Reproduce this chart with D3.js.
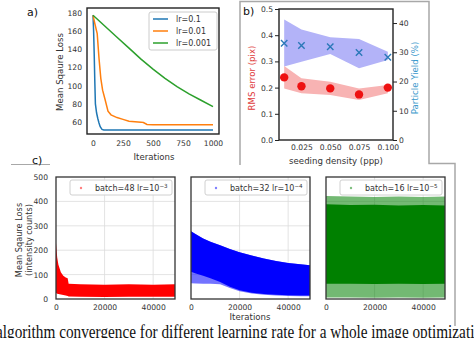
<!DOCTYPE html>
<html>
<head>
<meta charset="utf-8">
<script src="https://cdn.jsdelivr.net/npm/d3@7"></script>
<style>
  body { margin: 0; background: #fff; }
  svg { display: block; font-family: "DejaVu Sans", sans-serif; }
</style>
</head>
<body>
<div class="chart"></div>
<script>
// DATA ------------------------------------

// a) loss vs iterations for three learning rates
const fastIter = [0, 5, 10, 15, 20, 30, 40, 50, 60, 75, 90, 1000];
const fastLoss = [177, 160, 135, 105, 80, 70, 64, 59, 55, 52, 51.5, 51.5];
const midIter = [0, 15, 35, 50, 65, 80, 100, 125, 150, 200, 250, 300, 350, 400, 420, 450, 500, 1000];
const midLoss = [177, 168, 157, 130, 108, 95, 85, 72, 68, 65, 63, 61, 60.5, 60, 59.5, 57.5, 57, 57];
const slowIter = [0, 100, 200, 300, 400, 500, 600, 700, 800, 900, 1000];
const slowLoss = [177, 165, 153, 141, 129, 118, 108, 99, 91, 84, 77];
const aLabels = ["lr=0.1", "lr=0.01", "lr=0.001"];
const aXTicks = [0, 250, 500, 750, 1000];
const aYTicks = [60, 80, 100, 120, 140, 160, 180];

// b) RMS error and particle yield vs seeding density
const density = [0.01, 0.025, 0.05, 0.075, 0.1];
const rmsMean = [0.239, 0.205, 0.197, 0.174, 0.2];
const rmsLow = [0.197, 0.178, 0.172, 0.153, 0.178];
const rmsHigh = [0.282, 0.236, 0.222, 0.197, 0.21];
const yieldMean = [33.1, 32.3, 31.9, 29.9, 28.3];
const yieldLow = [25.1, 26.8, 29.4, 24.5, 27.4];
const yieldHigh = [41.2, 37.8, 35.1, 34.5, 30.2];
const bXTicks = [0.025, 0.05, 0.075, 0.1];
const bYTicks = [0, 0.1, 0.2, 0.3, 0.4, 0.5];
const bY2Ticks = [0, 10, 20, 30, 40];

// c) scatter envelopes per batch size (read from the picture)
const redIter = [0, 500, 1000, 2000, 3000, 4000, 4800, 5200, 10000, 20000, 30000, 40000, 49000];
const redLow = [25, 22, 20, 18, 16, 14, 12, 10, 9, 8, 9, 9, 9];
const redHigh = [230, 170, 140, 110, 95, 88, 85, 62, 60, 58, 60, 58, 60];
const blueIter = [0, 2000, 5000, 8000, 12000, 16000, 20000, 25000, 30000, 35000, 40000, 45000, 49000];
const blueLow = [112, 105, 95, 85, 70, 50, 36, 26, 20, 17, 15, 14, 14];
const blueHigh = [278, 265, 248, 235, 220, 205, 192, 178, 166, 156, 148, 142, 138];
const blueFringeLow = [65, 64, 63, 62, 60, 45, 32, 23, 17, 14, 12, 11, 11];
const greenIter = [0, 10000, 20000, 30000, 40000, 49000];
const greenLow = [62, 63, 61, 63, 61, 62];
const greenHigh = [388, 385, 386, 383, 385, 383];
const greenFringeLow = [6, 6, 5, 6, 5, 6];
const greenFringeHigh = [422, 420, 418, 420, 418, 420];
const cBatch = ["48", "32", "16"];
const cExp = ["\u22123", "\u22124", "\u22125"];
const cXTicks = [0, 20000, 40000];
const cYTicks = [0, 100, 200, 300, 400, 500];

// CHART -----------------------------------

const svg = d3.select(".chart").append("svg")
    .attr("width", 474)
    .attr("height", 338);

const tickFont = 7.6;
const labelFont = 8.6;

function styleAxis(g) {
    g.attr("font-size", tickFont).attr("font-family", "DejaVu Sans");
    g.selectAll(".tick text").attr("fill", "#333");
    g.selectAll(".tick line").attr("stroke", "#222");
}

// figure decorations (borders of the composited figure)
svg.append("path")
    .attr("d", "M240,165V1.5H429V163.5H455V326")
    .attr("fill", "none")
    .attr("stroke", "#a8a8a8")
    .attr("stroke-width", 1.5);
svg.append("path")
    .attr("d", "M11,164.5H50")
    .attr("stroke", "#a8a8a8")
    .attr("stroke-width", 1.2);

// ---------- a) ----------
const a = {left: 87, right: 219, top: 8, bottom: 134};
const aX = d3.scaleLinear().domain([-50, 1050]).range([a.left, a.right]);
const aY = d3.scaleLinear().domain([47, 185]).range([a.bottom, a.top]);

const aSeries = [
    {label: aLabels[0], color: "#1f77b4", it: fastIter, v: fastLoss},
    {label: aLabels[1], color: "#ff7f0e", it: midIter, v: midLoss},
    {label: aLabels[2], color: "#2ca02c", it: slowIter, v: slowLoss}
];

const aLine = d3.line().x(d => aX(d[0])).y(d => aY(d[1]));
svg.append("g").selectAll("path")
    .data(aSeries)
    .join("path")
    .attr("d", s => aLine(d3.zip(s.it, s.v)))
    .attr("fill", "none")
    .attr("stroke", s => s.color)
    .attr("stroke-width", 1.5);

svg.append("rect")
    .attr("x", a.left).attr("y", a.top)
    .attr("width", a.right - a.left).attr("height", a.bottom - a.top)
    .attr("fill", "none").attr("stroke", "#222").attr("stroke-width", 1.4);

svg.append("g")
    .attr("transform", `translate(0,${a.bottom})`)
    .call(d3.axisBottom(aX).tickValues(aXTicks).tickFormat(d3.format("d")).tickSize(0).tickPadding(7))
    .call(g => g.select(".domain").remove())
    .call(styleAxis);
svg.append("g")
    .attr("transform", `translate(${a.left},0)`)
    .call(d3.axisLeft(aY).tickValues(aYTicks).tickSize(0).tickPadding(5))
    .call(g => g.select(".domain").remove())
    .call(styleAxis);

svg.append("text")
    .attr("transform", "translate(60,72) rotate(-90)")
    .attr("text-anchor", "middle").attr("dy", "0.35em")
    .attr("font-size", labelFont).attr("fill", "#333")
    .text("Mean Sqaure Loss");
svg.append("text")
    .attr("x", 154).attr("y", 160)
    .attr("text-anchor", "middle")
    .attr("font-size", labelFont).attr("fill", "#333")
    .text("Iterations");
svg.append("text")
    .attr("x", 27).attr("y", 16)
    .attr("font-size", 11).attr("fill", "#111")
    .text("a)");

// legend a
const aLeg = svg.append("g").attr("transform", "translate(149,12)");
aLeg.append("rect")
    .attr("width", 68).attr("height", 38).attr("rx", 2)
    .attr("fill", "#fff").attr("stroke", "#ccc");
aSeries.forEach((s, i) => {
    const y = 7 + i * 12;
    aLeg.append("line")
        .attr("x1", 4).attr("x2", 19).attr("y1", y).attr("y2", y)
        .attr("stroke", s.color).attr("stroke-width", 1.5);
    aLeg.append("text")
        .attr("x", 27).attr("y", y).attr("dy", "0.35em")
        .attr("font-size", 8).attr("fill", "#333")
        .text(s.label);
});

// ---------- b) ----------
const b = {left: 279, right: 393, top: 9, bottom: 140};
const bX = d3.scaleLinear().domain([0.0055, 0.1045]).range([b.left, b.right]);
const bY = d3.scaleLinear().domain([0, 0.5]).range([b.bottom, b.top]);
const bY2 = d3.scaleLinear().domain([0, 44.8]).range([b.bottom, b.top]);

svg.append("path")
    .datum(d3.zip(density, yieldLow, yieldHigh))
    .attr("d", d3.area().x(d => bX(d[0])).y0(d => bY2(d[1])).y1(d => bY2(d[2])))
    .attr("fill", "#b3b3f8");
svg.append("path")
    .datum(d3.zip(density, rmsLow, rmsHigh))
    .attr("d", d3.area().x(d => bX(d[0])).y0(d => bY(d[1])).y1(d => bY(d[2])))
    .attr("fill", "#f8b3b3");

svg.append("g").selectAll("circle")
    .data(d3.zip(density, rmsMean))
    .join("circle")
    .attr("cx", d => bX(d[0])).attr("cy", d => bY(d[1]))
    .attr("r", 4.2).attr("fill", "#ee1111");

svg.append("g").selectAll("path")
    .data(d3.zip(density, yieldMean))
    .join("path")
    .attr("transform", d => `translate(${bX(d[0])},${bY2(d[1])})`)
    .attr("d", "M-3.2,-3.2L3.2,3.2M-3.2,3.2L3.2,-3.2")
    .attr("stroke", "#2a78b8").attr("stroke-width", 1.4);

svg.append("rect")
    .attr("x", b.left).attr("y", b.top)
    .attr("width", b.right - b.left).attr("height", b.bottom - b.top)
    .attr("fill", "none").attr("stroke", "#222").attr("stroke-width", 1.4);

svg.append("g")
    .attr("transform", `translate(0,${b.bottom})`)
    .call(d3.axisBottom(bX).tickValues(bXTicks).tickFormat(d3.format(".3f")).tickSize(0).tickPadding(5))
    .call(g => g.select(".domain").remove())
    .call(styleAxis);
svg.append("g")
    .attr("transform", `translate(${b.left},0)`)
    .call(d3.axisLeft(bY).tickValues(bYTicks).tickFormat(d3.format(".1f")).tickSize(4).tickPadding(2))
    .call(g => g.select(".domain").remove())
    .call(styleAxis);
svg.append("g")
    .attr("transform", `translate(${b.right},0)`)
    .call(d3.axisRight(bY2).tickValues(bY2Ticks).tickSize(4).tickPadding(2))
    .call(g => g.select(".domain").remove())
    .call(styleAxis);

svg.append("text")
    .attr("transform", "translate(252,78) rotate(-90)")
    .attr("text-anchor", "middle").attr("dy", "0.35em")
    .attr("font-size", labelFont).attr("fill", "#e03a3a")
    .text("RMS error (pix)");
svg.append("text")
    .attr("transform", "translate(415,78) rotate(-90)")
    .attr("text-anchor", "middle").attr("dy", "0.35em")
    .attr("font-size", labelFont).attr("fill", "#3a98cc")
    .text("Particle Yield (%)");
svg.append("text")
    .attr("x", 336).attr("y", 164)
    .attr("text-anchor", "middle")
    .attr("font-size", labelFont).attr("fill", "#333")
    .text("seeding density (ppp)");
svg.append("text")
    .attr("x", 243).attr("y", 15)
    .attr("font-size", 11).attr("fill", "#111")
    .text("b)");

// ---------- c) ----------
const cTop = 177, cBottom = 299, cW = 119;
const cY = d3.scaleLinear().domain([0, 500]).range([cBottom, cTop]);

const cPanels = [
    {x0: 56, color: "#ff0000", it: redIter, low: redLow, high: redHigh},
    {x0: 191, color: "#0000ff", it: blueIter, low: blueLow, high: blueHigh,
        fLow: blueFringeLow, fHigh: blueHigh},
    {x0: 326, color: "#008000", it: greenIter, low: greenLow, high: greenHigh,
        fLow: greenFringeLow, fHigh: greenFringeHigh}
];

cPanels.forEach((p, i) => {
    const x = d3.scaleLinear().domain([0, 49000]).range([p.x0, p.x0 + cW]);
    const g = svg.append("g");

    g.append("clipPath").attr("id", "clip" + i)
        .append("rect")
        .attr("x", p.x0).attr("y", cTop)
        .attr("width", cW).attr("height", cBottom - cTop);

    // grid
    g.selectAll(".vg").data(cXTicks.slice(1)).join("line")
        .attr("x1", d => x(d)).attr("x2", d => x(d))
        .attr("y1", cTop).attr("y2", cBottom)
        .attr("stroke", "#dcdcdc").attr("stroke-width", 0.8);
    g.selectAll(".hg").data(cYTicks.slice(1, -1)).join("line")
        .attr("x1", p.x0).attr("x2", p.x0 + cW)
        .attr("y1", d => cY(d)).attr("y2", d => cY(d))
        .attr("stroke", "#dcdcdc").attr("stroke-width", 0.8);

    const area = d3.area()
        .x(d => x(d[0])).y0(d => cY(d[1])).y1(d => cY(d[2]));
    const data = g.append("g").attr("clip-path", `url(#clip${i})`);
    if (p.fLow) {
        data.append("path")
            .attr("d", area(d3.zip(p.it, p.fLow, p.fHigh)))
            .attr("fill", p.color).attr("fill-opacity", 0.55);
    }
    data.append("path")
        .attr("d", area(d3.zip(p.it, p.low, p.high)))
        .attr("fill", p.color);

    g.append("rect")
        .attr("x", p.x0).attr("y", cTop)
        .attr("width", cW).attr("height", cBottom - cTop)
        .attr("fill", "none").attr("stroke", "#333").attr("stroke-width", 1.3);

    g.append("g")
        .attr("transform", `translate(0,${cBottom})`)
        .call(d3.axisBottom(x).tickValues(cXTicks).tickFormat(d3.format("d")).tickSize(0).tickPadding(6))
        .call(ax => ax.select(".domain").remove())
        .call(styleAxis);

    if (i === 0) {
        g.append("g")
            .attr("transform", `translate(${p.x0},0)`)
            .call(d3.axisLeft(cY).tickValues(cYTicks).tickSize(0).tickPadding(8))
            .call(ax => ax.select(".domain").remove())
            .call(styleAxis);
    }

    // legend
    const lw = 102;
    const leg = g.append("g").attr("transform", `translate(${p.x0 + cW - 3 - lw},180)`);
    leg.append("rect")
        .attr("width", lw).attr("height", 15).attr("rx", 2)
        .attr("fill", "#fff").attr("fill-opacity", 0.85).attr("stroke", "#d0d0d0");
    leg.append("circle")
        .attr("cx", 11).attr("cy", 8).attr("r", 1.2)
        .attr("fill", p.color).attr("fill-opacity", 0.5);
    const t = leg.append("text")
        .attr("x", 25).attr("y", 8).attr("dy", "0.35em")
        .attr("font-size", 8).attr("fill", "#333");
    t.append("tspan").text(`batch=${cBatch[i]} lr=10`);
    t.append("tspan").attr("dy", "-0.45em").attr("font-size", 5.6).text(cExp[i]);
});

svg.append("text")
    .attr("transform", "translate(19,240) rotate(-90)")
    .attr("text-anchor", "middle").attr("dy", "0.35em")
    .attr("font-size", 8.2).attr("fill", "#333")
    .text("Mean Sqaure Loss");
svg.append("text")
    .attr("transform", "translate(29,240) rotate(-90)")
    .attr("text-anchor", "middle").attr("dy", "0.35em")
    .attr("font-size", 8.2).attr("fill", "#333")
    .text("(intensity counts)");
svg.append("text")
    .attr("x", 250).attr("y", 320)
    .attr("text-anchor", "middle")
    .attr("font-size", labelFont).attr("fill", "#333")
    .text("Iterations");
svg.append("text")
    .attr("x", 32).attr("y", 164)
    .attr("font-size", 11).attr("fill", "#111")
    .text("c)");

// caption fragment at the bottom, cut by the picture edge as in the original
svg.append("text")
    .attr("x", -4).attr("y", 337.5)
    .attr("font-family", "Liberation Serif, serif")
    .attr("font-size", 18).attr("fill", "#111")
    .attr("textLength", 486).attr("lengthAdjust", "spacingAndGlyphs")
    .text("algorithm convergence for different learning rate for a whole image optimizatio");
</script>
</body>
</html>
